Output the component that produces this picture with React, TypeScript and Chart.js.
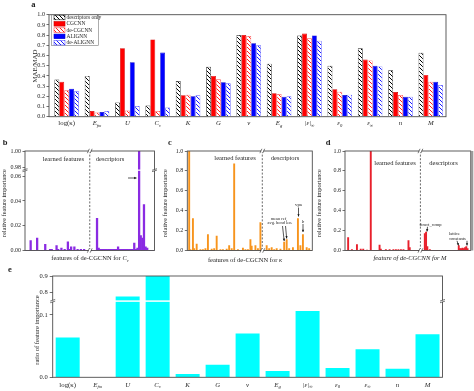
import React, { useEffect, useRef } from 'react';
import { Chart, registerables } from 'chart.js';

Chart.register(...registerables);

const SERIF = "'Liberation Serif', 'DejaVu Serif', serif";
const TEXT = '#1e1e1e';
const FRAME = '#4d4d4d';
Chart.defaults.font.family = SERIF;

// ---------- panel a / e : shared categories ----------
const categories = ['log(κ)', 'E_fm', 'U', 'C_v', 'K', 'G', 'ν', 'E_g', '|ε|_∞', 'ε_0', 'ε_∞', 'n', 'M'];
const seriesNames = ['descriptors only', 'CGCNN', 'de-CGCNN', 'ALIGNN', 'de-ALIGNN'];
const descriptorsOnly = [0.365, 0.40, 0.14, 0.11, 0.35, 0.49, 0.80, 0.52, 0.795, 0.50, 0.67, 0.455, 0.627];
const cgcnn = [0.343, 0.055, 0.67, 0.758, 0.21, 0.40, 0.80, 0.23, 0.815, 0.268, 0.56, 0.242, 0.41];
const deCgcnn = [0.26, 0.04, 0.06, 0.055, 0.215, 0.366, 0.79, 0.222, 0.768, 0.245, 0.552, 0.212, 0.343];
const alignn = [0.275, 0.045, 0.533, 0.63, 0.20, 0.337, 0.72, 0.196, 0.797, 0.212, 0.50, 0.196, 0.343];
const deAlignn = [0.25, 0.055, 0.105, 0.09, 0.21, 0.327, 0.70, 0.20, 0.745, 0.216, 0.493, 0.196, 0.31];
const maeTicks = [0, 0.1, 0.2, 0.3, 0.4, 0.5, 0.6, 0.7, 0.8, 0.9, 1.0];

// ---------- panel e ----------
const importanceRatio = [0.0635, 0, 0.773, 0.9, 0.0053, 0.02, 0.07, 0.01, 0.106, 0.0148, 0.045, 0.0138, 0.069];
const ratioTicks = [0, 0.1, 0.8, 0.9];

// ---------- panel b : de-CGCNN for Cv ----------
const bLearned = [0, 0, 0, 0.008, 0, 0, 0, 0.010, 0, 0, 0, 0, 0.005, 0, 0, 0.001, 0.001, 0, 0, 0.004,
  0.001, 0, 0.002, 0, 0.001, 0, 0.007, 0.001, 0.003, 0, 0.003, 0, 0.001, 0, 0.001, 0, 0.001, 0, 0, 0];
const bDescriptors = [0, 0, 0, 0, 0.026, 0.002, 0.001, 0.001, 0.001, 0.001, 0.001, 0.001, 0.001, 0.001, 0.001, 0.001,
  0.001, 0.003, 0.001, 0.001, 0.001, 0.001, 0.001, 0.001, 0.001, 0.001, 0.001, 0.006, 0.001, 0.002,
  1.0, 0.012, 0.010, 0.037, 0.003, 0.002, 0, 0, 0, 0];
const bTicks = [0, 0.02, 0.04, 0.06, 0.98, 1.0];
const bTickLabels = ['0.00', '0.02', '0.04', '0.06', '0.98', '1.00'];

// ---------- panel c : de-CGCNN for kappa ----------
const cLearned = [0, 1.0, 0.01, 0, 0.32, 0.02, 0, 0.065, 0, 0, 0.01, 0, 0.01, 0, 0.02, 0, 0.16, 0, 0, 0.015,
  0, 0.02, 0, 0.145, 0, 0, 0.01, 0, 0.01, 0, 0, 0.015, 0, 0.05, 0, 0.02, 0, 0.87, 0, 0,
  0.01, 0, 0, 0, 0.025, 0, 0.01, 0, 0.01, 0, 0.11, 0.045, 0, 0, 0.05, 0, 0.02, 0, 0.28, 0];
const cDescriptors = [0, 0, 0, 0.05, 0, 0.02, 0, 0.03, 0, 0.01, 0, 0.02, 0, 0, 0.015, 0, 0, 0.085, 0, 0.11,
  0, 0.02, 0, 0, 0.03, 0, 0, 0, 0.32, 0, 0.05, 0, 0.16, 0, 0, 0.03, 0, 0.02, 0, 0];
const unitTicks = [0, 0.2, 0.4, 0.6, 0.8, 1.0];

// ---------- panel d : de-CGCNN for M ----------
const dLearned = [0, 0, 0.13, 0, 0, 0.01, 0, 0, 0, 0.06, 0, 0, 0.015, 0, 0.015, 0, 0, 0.005, 0, 0,
  1.0, 0, 0, 0, 0, 0, 0, 0.055, 0.015, 0, 0, 0, 0.01, 0, 0, 0.01, 0, 0, 0.01, 0,
  0.01, 0, 0.01, 0, 0.01, 0, 0.01, 0, 0, 0, 0.10, 0.03, 0, 0, 0, 0, 0, 0, 0, 0];
const dDescriptors = [0, 0, 0, 0.17, 0.185, 0.04, 0, 0.01, 0, 0, 0, 0, 0, 0, 0, 0, 0, 0, 0, 0,
  0, 0, 0, 0, 0, 0, 0, 0, 0, 0, 0.05, 0.02, 0.02, 0.025, 0.02, 0.03, 0.04, 0.02, 0, 0];

// ---------- helpers ----------
type Rect = { left: number; top: number; width: number; height: number };
type Area = { l: number; t: number; r: number; b: number };
type Part = { t: string; it?: boolean; sub?: boolean };

function hatch(ctx: CanvasRenderingContext2D, color: string) {
  const s = 4;
  const c = document.createElement('canvas');
  c.width = s; c.height = s;
  const g = c.getContext('2d')!;
  g.fillStyle = '#ffffff';
  g.fillRect(0, 0, s, s);
  g.strokeStyle = color;
  g.lineWidth = 1;
  g.beginPath();
  g.moveTo(0, 0); g.lineTo(s, s);
  g.moveTo(-1, s - 1); g.lineTo(1, s + 1);
  g.moveTo(s - 1, -1); g.lineTo(s + 1, 1);
  g.stroke();
  return ctx.createPattern(c, 'repeat')!;
}

function brokenAxis(lowMax: number, gap: number, upMin: number, upScale: number) {
  return (v: number) => (v <= lowMax ? v : lowMax + gap + (Math.max(v, upMin) - upMin) * upScale);
}

function drawText(ctx: CanvasRenderingContext2D, text: string, x: number, y: number,
  o: { size?: number; italic?: boolean; bold?: boolean; align?: CanvasTextAlign; rot?: number } = {}) {
  ctx.save();
  ctx.font = `${o.italic ? 'italic ' : ''}${o.bold ? 'bold ' : ''}${o.size ?? 6.5}px ${SERIF}`;
  ctx.fillStyle = TEXT;
  ctx.textAlign = o.align ?? 'center';
  ctx.textBaseline = 'middle';
  ctx.translate(x, y);
  if (o.rot) ctx.rotate(o.rot);
  ctx.fillText(text, 0, 0);
  ctx.restore();
}

function drawParts(ctx: CanvasRenderingContext2D, parts: Part[], cx: number, cy: number, size: number) {
  ctx.save();
  ctx.textBaseline = 'middle';
  ctx.textAlign = 'left';
  ctx.fillStyle = TEXT;
  const fontOf = (p: Part) => `${p.it ? 'italic ' : ''}${p.sub ? size * 0.68 : size}px ${SERIF}`;
  let total = 0;
  const ws = parts.map((p) => { ctx.font = fontOf(p); const w = ctx.measureText(p.t).width; total += w; return w; });
  let x = cx - total / 2;
  parts.forEach((p, i) => {
    ctx.font = fontOf(p);
    ctx.fillText(p.t, x, cy + (p.sub ? size * 0.32 : 0));
    x += ws[i];
  });
  ctx.restore();
}

function labelParts(label: string, upright: boolean): Part[] {
  const [main, sub] = label.split('_');
  const parts: Part[] = [{ t: main, it: !upright }];
  if (sub) parts.push({ t: sub, it: !upright, sub: true });
  return parts;
}

function arrow(ctx: CanvasRenderingContext2D, x1: number, y1: number, x2: number, y2: number) {
  ctx.save();
  ctx.strokeStyle = '#111';
  ctx.fillStyle = '#111';
  ctx.lineWidth = 0.7;
  ctx.beginPath(); ctx.moveTo(x1, y1); ctx.lineTo(x2, y2); ctx.stroke();
  const a = Math.atan2(y2 - y1, x2 - x1);
  ctx.beginPath();
  ctx.moveTo(x2, y2);
  ctx.lineTo(x2 - 2.6 * Math.cos(a - 0.45), y2 - 2.6 * Math.sin(a - 0.45));
  ctx.lineTo(x2 - 2.6 * Math.cos(a + 0.45), y2 - 2.6 * Math.sin(a + 0.45));
  ctx.closePath(); ctx.fill();
  ctx.restore();
}

function frame(ctx: CanvasRenderingContext2D, a: Area) {
  ctx.save();
  ctx.strokeStyle = FRAME;
  ctx.lineWidth = 0.9;
  ctx.strokeRect(a.l, a.t, a.r - a.l, a.b - a.t);
  ctx.restore();
}

function xBreak(ctx: CanvasRenderingContext2D, x: number, y: number) {
  ctx.save();
  ctx.fillStyle = '#fff';
  ctx.fillRect(x - 1.2, y - 1.5, 2.4, 3);
  ctx.strokeStyle = '#222';
  ctx.lineWidth = 0.6;
  ctx.beginPath();
  ctx.moveTo(x - 2.4, y + 2.2); ctx.lineTo(x - 0.4, y - 2.2);
  ctx.moveTo(x + 0.4, y + 2.2); ctx.lineTo(x + 2.4, y - 2.2);
  ctx.stroke();
  ctx.restore();
}

function yBreak(ctx: CanvasRenderingContext2D, x: number, yTop: number, yBot: number) {
  ctx.save();
  ctx.strokeStyle = '#222';
  ctx.lineWidth = 0.6;
  ctx.beginPath();
  ctx.moveTo(x - 2.5, yTop + 0.8); ctx.lineTo(x + 2.5, yTop - 0.8);
  ctx.moveTo(x - 2.5, yBot + 0.8); ctx.lineTo(x + 2.5, yBot - 0.8);
  ctx.stroke();
  ctx.restore();
}

function dashedV(ctx: CanvasRenderingContext2D, x: number, a: Area) {
  ctx.save();
  ctx.strokeStyle = '#444';
  ctx.lineWidth = 0.8;
  ctx.setLineDash([2, 1.6]);
  ctx.beginPath(); ctx.moveTo(x, a.t); ctx.lineTo(x, a.b); ctx.stroke();
  ctx.restore();
}

type Cfg = {
  rect: Rect;
  area: Area;
  labels: string[];
  datasets: any[];
  yMin: number;
  yMax: number;
  ticks: number[];
  tickLabels: string[];
  tickSize: number;
  tickLen: number;
  tickPad: number;
  xLeft?: number;
  draw: (ctx: CanvasRenderingContext2D, px: (i: number) => number, py: (v: number) => number, chart: Chart) => void;
};

function makeChart(canvas: HTMLCanvasElement, cfg: Cfg) {
  const { rect, area } = cfg;
  const rel = { l: area.l - rect.left, t: area.t - rect.top, r: area.r - rect.left, b: area.b - rect.top };
  const custom = {
    id: 'custom',
    afterLayout(chart: any) {
      if (cfg.xLeft !== undefined) {
        const xs = chart.scales.x;
        xs.left = cfg.xLeft - rect.left;
        xs.width = xs.right - xs.left;
        xs.configure();
      }
    },
    afterDatasetsDraw(chart: any) {
      const ctx = chart.ctx as CanvasRenderingContext2D;
      ctx.save();
      ctx.translate(-rect.left, -rect.top);
      const px = (i: number) => chart.scales.x.getPixelForValue(i) + rect.left;
      const py = (v: number) => chart.scales.y.getPixelForValue(v) + rect.top;
      cfg.draw(ctx, px, py, chart);
      ctx.restore();
    },
  };
  return new Chart(canvas, {
    type: 'bar',
    data: { labels: cfg.labels, datasets: cfg.datasets },
    options: {
      responsive: false,
      animation: false,
      events: [],
      layout: { padding: { left: 0, top: rel.t, right: rect.width - rel.r, bottom: 0 } },
      plugins: { legend: { display: false }, tooltip: { enabled: false } },
      scales: {
        x: {
          type: 'category',
          offset: true,
          grid: { display: false },
          border: { display: false },
          ticks: { display: false },
          afterFit: (s: any) => { s.height = rect.height - rel.b; },
        },
        y: {
          type: 'linear',
          min: cfg.yMin,
          max: cfg.yMax,
          afterFit: (s: any) => { s.width = rel.l; },
          afterBuildTicks: (s: any) => { s.ticks = cfg.ticks.map((v) => ({ value: v })); },
          ticks: {
            autoSkip: false,
            padding: cfg.tickPad,
            color: TEXT,
            font: { family: SERIF, size: cfg.tickSize },
            callback: (_v: any, idx: number) => cfg.tickLabels[idx],
          },
          grid: { drawOnChartArea: false, drawTicks: true, tickLength: cfg.tickLen, color: FRAME, lineWidth: 0.8 },
          border: { display: false },
        },
      },
    } as any,
    plugins: [custom],
  });
}

// ---------- panel geometry ----------
const A_RECT: Rect = { left: 0, top: 0, width: 474, height: 135 };
const A_AREA: Area = { l: 49, t: 14.7, r: 446, b: 116.7 };
const B_RECT: Rect = { left: 0, top: 140, width: 158, height: 125 };
const B_AREA: Area = { l: 25, t: 151, r: 154.5, b: 250.5 };
const C_RECT: Rect = { left: 158, top: 140, width: 158, height: 125 };
const C_AREA: Area = { l: 187.3, t: 151, r: 312.3, b: 250.5 };
const D_RECT: Rect = { left: 316, top: 140, width: 158, height: 125 };
const D_AREA: Area = { l: 345, t: 151, r: 470.7, b: 250.5 };
const E_RECT: Rect = { left: 0, top: 265, width: 474, height: 126 };
const E_AREA: Area = { l: 52.7, t: 276, r: 442.5, b: 377.3 };

function buildA(canvas: HTMLCanvasElement) {
  const ctx = canvas.getContext('2d')!;
  const series = [descriptorsOnly, cgcnn, deCgcnn, alignn, deAlignn];
  const fills = [hatch(ctx, '#000000'), '#ff0000', hatch(ctx, '#ff1a1a'), '#0000ff', hatch(ctx, '#1a1aff')];
  const borders = ['#222222', '#d00000', '#ff5050', '#0000c8', '#5a5aff'];
  const datasets = series.map((d, i) => ({
    label: seriesNames[i], data: d, backgroundColor: fills[i], borderColor: borders[i], borderWidth: 0.7,
    categoryPercentage: 0.81, barPercentage: 1.0,
  }));
  return makeChart(canvas, {
    rect: A_RECT, area: A_AREA, labels: categories, datasets, yMin: 0, yMax: 1,
    ticks: maeTicks, tickLabels: maeTicks.map((v) => v.toFixed(1)), tickSize: 6.2, tickLen: 2.5, tickPad: 1.5,
    xLeft: 51.5,
    draw: (c, px) => {
      frame(c, A_AREA);
      drawText(c, 'a', 33.3, 4.5, { size: 8.5, bold: true });
      drawText(c, 'MAE/MAD', 35.5, 66, { size: 6.8, rot: -Math.PI / 2 });
      categories.forEach((lab, i) => drawParts(c, labelParts(lab, i === 0), px(i), 123.5, 6.8));
      // legend
      c.save();
      c.strokeStyle = '#777';
      c.lineWidth = 0.6;
      c.strokeRect(51.5, 14.7, 47, 30.6);
      seriesNames.forEach((name, i) => {
        const y = 17.5 + i * 6.3;
        c.fillStyle = fills[i] as any;
        c.fillRect(54, y - 2.3, 11, 4.6);
        c.strokeStyle = borders[i];
        c.lineWidth = 0.6;
        c.strokeRect(54, y - 2.3, 11, 4.6);
        drawText(c, name, 66.5, y, { size: 5.4, align: 'left' });
      });
      c.restore();
    },
  });
}

function buildB(canvas: HTMLCanvasElement) {
  const f = brokenAxis(0.0643, 0.00114, 0.9775, 817 / 1233);
  const values = [...bLearned, ...bDescriptors];
  return makeChart(canvas, {
    rect: B_RECT, area: B_AREA, labels: values.map((_, i) => String(i)),
    datasets: [{ data: values.map(f), backgroundColor: '#8a2be2', categoryPercentage: 1, barPercentage: 1 }],
    yMin: 0, yMax: f(1.0), ticks: bTicks.map(f), tickLabels: bTickLabels, tickSize: 6, tickLen: 2.5, tickPad: 1.5,
    draw: (c, px, py) => {
      frame(c, B_AREA);
      const gTop = py(f(0.9775)), gBot = py(0.0643);
      c.fillStyle = '#fff';
      c.fillRect(B_AREA.l - 3, gTop + 0.1, B_AREA.r - B_AREA.l + 6, gBot - gTop - 0.2);
      yBreak(c, B_AREA.l, gTop, gBot);
      yBreak(c, B_AREA.r, gTop, gBot);
      const xd = (px(bLearned.length - 1) + px(bLearned.length)) / 2;
      dashedV(c, xd, B_AREA);
      xBreak(c, xd, B_AREA.t);
      xBreak(c, xd, B_AREA.b);
      drawText(c, 'b', 5, 143, { size: 8.5, bold: true });
      drawText(c, 'relative feature importance', 4.5, 203, { size: 6.3, rot: -Math.PI / 2 });
      drawText(c, 'learned features', 63.3, 159.5, { size: 6.5 });
      drawText(c, 'descriptors', 110, 159.5, { size: 6.5 });
      arrow(c, 128, 178, 136.5, 178);
      drawParts(c, [{ t: 'features of de-CGCNN for ' }, { t: 'C', it: true }, { t: 'v', it: true, sub: true }], 90, 258.5, 6.5);
    },
  });
}

function buildC(canvas: HTMLCanvasElement) {
  const values = [...cLearned, ...cDescriptors];
  return makeChart(canvas, {
    rect: C_RECT, area: C_AREA, labels: values.map((_, i) => String(i)),
    datasets: [{ data: values, backgroundColor: '#f7941d', categoryPercentage: 1, barPercentage: 1 }],
    yMin: 0, yMax: 1, ticks: unitTicks, tickLabels: unitTicks.map((v) => v.toFixed(1)), tickSize: 6, tickLen: 2.5, tickPad: 1.5,
    draw: (c, px, py) => {
      frame(c, C_AREA);
      const xd = (px(cLearned.length - 1) + px(cLearned.length)) / 2;
      dashedV(c, xd, C_AREA);
      xBreak(c, xd, C_AREA.t);
      xBreak(c, xd, C_AREA.b);
      drawText(c, 'c', 170, 143, { size: 8.5, bold: true });
      drawText(c, 'relative feature importance', 165.5, 203, { size: 6.3, rot: -Math.PI / 2 });
      drawText(c, 'learned features', 235, 158.5, { size: 6.5 });
      drawText(c, 'descriptors', 285, 158.5, { size: 6.5 });
      drawText(c, 'vpa', 298.5, 205, { size: 4.8 });
      arrow(c, 298.5, 207.5, 298.5, 216.5);
      drawText(c, 'b', 303, 221.5, { size: 5, italic: true });
      arrow(c, 303, 224, 303, 232);
      drawText(c, 'mean ref,', 279, 218.5, { size: 4.4 });
      drawText(c, 'avg. bond len.', 280, 223.3, { size: 4.4 });
      arrow(c, 282.5, 226, 284.2, py(0.085) - 1);
      arrow(c, 285.5, 226, 286.7, py(0.11) - 1);
      drawParts(c, [{ t: 'features of de-CGCNN for ' }, { t: 'κ', it: true }], 245, 260.5, 6.5);
    },
  });
}

function buildD(canvas: HTMLCanvasElement) {
  const values = [...dLearned, ...dDescriptors];
  return makeChart(canvas, {
    rect: D_RECT, area: D_AREA, labels: values.map((_, i) => String(i)),
    datasets: [{ data: values, backgroundColor: '#e8202c', categoryPercentage: 1, barPercentage: 1 }],
    yMin: 0, yMax: 1, ticks: unitTicks, tickLabels: unitTicks.map((v) => v.toFixed(1)), tickSize: 6, tickLen: 2.5, tickPad: 1.5,
    draw: (c, px) => {
      frame(c, D_AREA);
      c.fillStyle = '#9a9a9a';
      c.fillRect(D_AREA.r, D_AREA.t, 2.6, D_AREA.b - D_AREA.t);
      const xd = (px(dLearned.length - 1) + px(dLearned.length)) / 2;
      dashedV(c, xd, D_AREA);
      xBreak(c, xd, D_AREA.t);
      xBreak(c, xd, D_AREA.b);
      drawText(c, 'd', 328, 143, { size: 8.5, bold: true });
      drawText(c, 'relative feature importance', 319, 203, { size: 6.3, rot: -Math.PI / 2 });
      drawText(c, 'learned features', 395, 163.5, { size: 6.5 });
      drawText(c, 'descriptors', 443.5, 163.5, { size: 6.5 });
      drawText(c, 'struct_comp', 430.5, 224.5, { size: 4.5 });
      arrow(c, 427.5, 226.8, 427, 231.5);
      drawText(c, 'lattice', 454.5, 233.5, { size: 4.5 });
      drawText(c, 'constants', 457.5, 238.5, { size: 4.5 });
      arrow(c, 457, 240.8, 458.5, 245.5);
      arrow(c, 467, 240.8, 467, 245.5);
      drawText(c, 'feature of de-CGCNN for M', 410, 258.5, { size: 6.5, italic: true });
    },
  });
}

function buildE(canvas: HTMLCanvasElement) {
  const f = brokenAxis(0.1206, 0.0027, 0.75, 163 / 630);
  return makeChart(canvas, {
    rect: E_RECT, area: E_AREA, labels: categories,
    datasets: [{ data: importanceRatio.map(f), backgroundColor: '#00ffff', categoryPercentage: 0.8, barPercentage: 1 }],
    yMin: 0, yMax: f(0.9), ticks: ratioTicks.map(f), tickLabels: ratioTicks.map((v) => v.toFixed(1)), tickSize: 6.5, tickLen: 3, tickPad: 2,
    draw: (c, px, py) => {
      frame(c, E_AREA);
      const gTop = py(f(0.75)), gBot = py(0.1206);
      c.fillStyle = '#fff';
      c.fillRect(E_AREA.l - 3, gTop + 0.1, E_AREA.r - E_AREA.l + 6, gBot - gTop - 0.2);
      yBreak(c, E_AREA.l, gTop, gBot);
      yBreak(c, E_AREA.r, gTop, gBot);
      drawText(c, 'e', 10, 270, { size: 8.5, bold: true });
      drawText(c, 'ratio of feature importance', 37.5, 330, { size: 6.5, rot: -Math.PI / 2 });
      categories.forEach((lab, i) => drawParts(c, labelParts(lab, i === 0), px(i), 385, 6.8));
    },
  });
}

export default function App() {
  const aRef = useRef<HTMLCanvasElement>(null);
  const bRef = useRef<HTMLCanvasElement>(null);
  const cRef = useRef<HTMLCanvasElement>(null);
  const dRef = useRef<HTMLCanvasElement>(null);
  const eRef = useRef<HTMLCanvasElement>(null);

  useEffect(() => {
    const charts = [
      buildA(aRef.current!),
      buildB(bRef.current!),
      buildC(cRef.current!),
      buildD(dRef.current!),
      buildE(eRef.current!),
    ];
    return () => charts.forEach((ch) => ch.destroy());
  }, []);

  const cv = (ref: React.RefObject<HTMLCanvasElement>, r: Rect) => (
    <canvas ref={ref} width={r.width} height={r.height}
      style={{ position: 'absolute', left: r.left, top: r.top, width: r.width, height: r.height }} />
  );

  return (
    <div style={{ position: 'absolute', left: 0, top: 0, width: 474, height: 391, background: '#ffffff', overflow: 'hidden' }}>
      {cv(aRef, A_RECT)}
      {cv(bRef, B_RECT)}
      {cv(cRef, C_RECT)}
      {cv(dRef, D_RECT)}
      {cv(eRef, E_RECT)}
    </div>
  );
}
